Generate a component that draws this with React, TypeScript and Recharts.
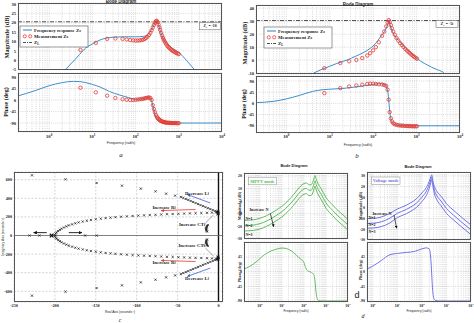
import React from "react";
import {
  ComposedChart,
  ScatterChart,
  Line,
  Scatter,
  XAxis,
  YAxis,
  CartesianGrid,
  ReferenceLine,
} from "recharts";

const SERIF = '"Liberation Serif", "Times New Roman", serif';
const SANS = '"Liberation Sans", Arial, sans-serif';
const BLUE = "#3d8ec9";
const RED = "#e5392e";
const GREEN = "#5cbc5c";
const VIOLET = "#7272e4";

// ---- panel a (Z_L = -10) ----
const aZL = 20.5;
const aFreq = [2.2, 3, 4, 5, 7, 10, 15, 20, 30, 50, 100, 150, 200, 250, 290, 310, 340, 380, 450, 550, 700, 1000, 1500, 2000, 2500];
const aMag = [-6, -2.5, 0.5, 3, 6.5, 8.7, 10.8, 11.7, 12.3, 12.5, 12.5, 12.7, 14.2, 17.5, 20.5, 21, 19, 15, 11, 8.5, 6.5, 4.2, 0, -3.3, -6];
const aPhFreq = [0.19, 0.3, 0.5, 1, 2, 3.6, 5, 10, 15, 25, 42, 70, 100, 140, 180, 206, 225, 245, 270, 293, 330, 400, 500, 10000];
const aPh = [16, 26, 38, 56, 68, 73, 72, 61, 51, 33, 20, 9, 3, 4, 9, 11, 6, -15, -45, -68, -82, -88, -90, -90];
const aMeasF = [5.3, 12, 22, 34, 50, 62, 75, 88, 100, 112, 125, 138, 150, 163, 176, 190, 205, 220, 235, 250, 265, 280, 295, 310, 325, 340, 355, 370, 390, 410, 430, 450, 470, 495, 520, 550, 580, 610, 650, 690, 730, 780, 830, 880, 940, 1000];
const aMeasMag = [5.5, 9.3, 11.4, 11.6, 11.4, 11.1, 10.8, 10.6, 10.5, 10.5, 10.6, 10.8, 11, 11.4, 11.9, 12.6, 13.5, 14.6, 16, 17.4, 18.8, 20, 20.8, 21, 20.3, 19, 17.6, 16.2, 14.6, 13.2, 12, 11, 10.1, 9.2, 8.4, 7.6, 7, 6.5, 5.9, 5.4, 5, 4.6, 4.2, 3.9, 3.6, 3.3];
const aMeasPh = [48, 30, 17, 8, 3, 1, 0, 0, 1, 2, 3, 4, 5, 6.5, 8, 9, 10, 8, 0, -20, -35, -48, -58, -65, -70, -74, -77, -79, -82, -84, -85, -86, -87, -88, -88.5, -89, -89, -89.5, -89.5, -90, -90, -90, -90, -90.5, -90.5, -90.5];

// ---- panel b ----
const bZL = 30.5;
const bFreq = [4.3, 6, 10, 15, 25, 40, 60, 85, 115, 145, 170, 195, 215, 229, 245, 270, 310, 360, 420, 550, 700, 1000, 1500, 2200, 3000, 3900, 4600];
const bMag = [-10, -7.8, -4.8, -2.5, 0, 3, 5.8, 8.9, 13, 17.6, 20.5, 24, 27.5, 31, 27.5, 23, 19, 16.2, 13.9, 9.5, 6.3, 1.3, -2.5, -5.5, -7.5, -9, -11];
const bPhFreq = [0.2, 0.5, 1, 2, 4, 7, 10, 20, 40, 70, 100, 150, 190, 210, 222, 232, 242, 255, 275, 320, 400, 600, 10000];
const bPh = [3, 8, 18, 32, 48, 55, 57, 60, 66, 72, 76, 79, 75, 60, 35, 0, -35, -62, -78, -86, -89, -90, -90];
const bMeasF = [7.5, 17.5, 28, 41, 56, 73, 85, 100, 115, 135, 160, 180, 200, 215, 228, 240, 255, 270, 290, 315, 345, 380, 420, 460, 500, 550, 600, 650, 700, 760, 820, 880, 950, 1020];
const bMeasMag = [-6.3, -2.3, -1, 0, 1.5, 3.5, 5.3, 7.5, 10, 13.7, 18.7, 22, 26, 29, 30.8, 29.5, 27, 24.5, 22, 19.5, 17, 15, 13, 11.5, 10, 8.5, 7.3, 6.2, 5.2, 4.2, 3.3, 2.5, 1.7, 1];
const bMeasPh = [41, 61, 68, 72, 75, 78, 79, 79, 78, 77, 76, 74, 70, 55, 15, -35, -60, -72, -80, -84, -86, -88, -89, -89.5, -90, -90.5, -91, -91, -91.5, -91.5, -92, -92, -92, -92];

// ---- panel c (pole map, upper half; lower half is the conjugate) ----
const cIsoRe = [-228, -187, -149, -118, -95, -77, -64, -53];
const cIsoIm = [647, 604, 565, 536, 504, 475, 450, 429];
const cAxisRe = [-231, -219, -163, -149];
const cDoubleRe = [-204];
const cRfRe = [-200, -199, -198, -196, -194, -192, -189, -186, -183, -179, -175, -171, -166, -161, -156, -150, -144, -138, -132, -126, -119, -112, -105, -98, -91, -84, -77, -70, -63, -56, -49, -42, -35, -28, -21, -14, -8, -3];
const cRfIm = [8, 22, 35, 48, 61, 73, 86, 98, 109, 120, 131, 141, 150, 159, 167, 174, 181, 187, 192, 197, 202, 206, 210, 214, 217, 220, 223, 226, 229, 231, 234, 236, 238, 240, 242, 244, 246, 248];
const cLfRe = [-46, -43, -40, -37, -34, -31, -28, -25, -22, -19, -16, -13, -10, -7, -4, -2];
const cLfIm = [415, 404, 393, 382, 371, 360, 349, 338, 327, 316, 305, 294, 284, 274, 264, 256];
const cCtRe = [-14, -14.5, -15, -15, -15, -14.5, -14, -13];
const cCtIm = [42, 52, 62, 72, 82, 92, 102, 112];
const cHubRe = [-1, 0, -1, 0, -1, 0, -1];
const cHubIm = [226, 232, 238, 243, 250, 256, 262];

// ---- panel d left (MPPT mode) ----
const dlFreq = [0.19, 0.5, 1, 1.5, 2, 3, 5, 10, 20, 33, 50, 70, 100, 130, 170, 210, 250, 290, 320, 360, 450, 600, 1000, 2000, 3200, 6000, 10000];
const dlN1 = [-15.2, -14.8, -13.5, -12.5, -11.5, -9.9, -7.5, -4, 0.8, 5, 9, 12, 14, 14.5, 13, 13, 15, 18.5, 20.5, 17.5, 13.5, 10, 3, -3, -6.7, -11, -14.5];
const dlN2 = [-19.4, -19, -17.8, -16.8, -15.8, -14.2, -11.8, -8.3, -3.5, 0.7, 4.7, 7.7, 9.7, 10.2, 8.7, 8.7, 10.7, 14.2, 16.2, 13.2, 9.2, 5.7, -1.3, -7.3, -11, -15.3, -18.8];
const dlN3 = [-23.6, -23.2, -22, -21, -20, -18.4, -16, -12.5, -7.7, -3.5, 0.5, 3.5, 5.5, 6, 4.5, 4.5, 6.5, 10, 12, 9, 5, 1.5, -5.5, -11.5, -15.2, -19.5, -23];
const dlPhFreq = [0.19, 0.5, 1, 1.4, 2, 2.9, 5, 10, 16, 23, 35, 47, 70, 100, 120, 150, 200, 250, 290, 320, 350, 390, 450, 600, 10000];
const dlPh = [8, 23, 40, 49, 56, 62, 68, 72.5, 71, 66, 58, 49, 39, 28, 12, 2, -1, -5, -12, -30, -60, -80, -88, -90, -90];

// ---- panel d right (Voltage mode) ----
const drFreq = [0.58, 1, 2.2, 5, 10, 23, 36, 60, 100, 150, 200, 230, 250, 280, 325, 420, 600, 1000, 2000, 4000, 10000];
const drN1 = [-10, -9.8, -8.5, -5, -1, 2.5, 5, 8.5, 14, 19, 25, 29, 31, 25, 20, 15, 11, 4, -2.5, -8.5, -16];
const drN2 = [-14.5, -14.3, -13, -9.5, -5, -1.5, 1, 4.5, 10, 15.5, 22, 26.5, 29, 23, 16.5, 11, 6.5, -0.5, -7, -13, -20.5];
const drN3 = [-19, -18.8, -17.5, -14, -9, -5.5, -3, 0.5, 6, 11.5, 18.5, 23.5, 26.5, 20, 13, 7, 2, -5, -11.5, -17.5, -25];
const drPhFreq = [0.58, 1, 2.2, 5, 10, 23, 50, 100, 150, 200, 220, 240, 260, 280, 300, 350, 500, 10000];
const drPh = [8, 17, 34, 52, 56, 59, 62, 70, 73, 70, 55, 20, -30, -65, -80, -88, -90, -90];

type Pt = { f: number; v: number };
const pts = (f: number[], v: number[]): Pt[] => f.map((x, i) => ({ f: x, v: v[i] }));
const cpts = (re: number[], im: number[]) => re.map((x, i) => ({ x, y: im[i] }));
const conj = (a: { x: number; y: number }[]) => a.map((p) => ({ x: p.x, y: -p.y }));

// decade + minor grid positions for a log axis
function logGrid(lo: number, hi: number) {
  const out: number[] = [];
  for (let e = -1; e <= 4; e++)
    for (let m = 1; m <= 9; m++) {
      const v = m * Math.pow(10, e);
      if (v >= lo * 0.999 && v <= hi * 1.001) out.push(v);
    }
  return out;
}

const DecTick = (props: any) => {
  const { x, y, payload, fs, gap } = props;
  const lg = Math.log10(payload.value);
  const e = Math.round(lg);
  if (Math.abs(lg - e) > 1e-6) return <g />;
  return (
    <text x={x} y={y + gap} textAnchor="middle" fontSize={fs} fontWeight={700} fontFamily={SERIF} fill="#222">
      10
      <tspan dy={-fs * 0.45} fontSize={fs * 0.7}>
        {e}
      </tspan>
    </text>
  );
};

const Ring = (p: any) => <circle cx={p.cx} cy={p.cy} r={1.7} fill="none" stroke={RED} strokeWidth={0.8} />;

type Series = { data: Pt[]; color: string };
type PanelProps = {
  x: number;
  y: number;
  w: number;
  h: number;
  xDomain: [number, number];
  yDomain: [number, number];
  yTicks: number[];
  lines: Series[];
  meas?: Pt[];
  refY?: number;
  gap?: number;
  fs: number;
  axisW: number;
};

const PAD = 4; // room round the plot so edge labels are not clipped

function LogPanel({ x, y, w, h, xDomain, yDomain, yTicks, lines, meas, refY, gap, fs, axisW }: PanelProps) {
  const xh = gap ? gap + fs : 0;
  const W = w + axisW + PAD;
  const H = h + xh + 2 * PAD;
  return (
    <div style={{ position: "absolute", left: x - axisW, top: y - PAD, width: W, height: H }}>
      <ComposedChart width={W} height={H} margin={{ top: PAD, right: PAD, bottom: PAD, left: 0 }}>
        <CartesianGrid stroke="#b4b4b4" strokeWidth={0.5} strokeDasharray="1 1.2" />
        <XAxis
          type="number"
          dataKey="f"
          scale="log"
          domain={xDomain}
          allowDataOverflow
          ticks={logGrid(xDomain[0], xDomain[1])}
          interval={0}
          hide={!gap}
          height={xh}
          axisLine={false}
          tickLine={false}
          tickSize={0}
          tickMargin={0}
          tick={<DecTick fs={fs} gap={gap} />}
        />
        <YAxis
          type="number"
          domain={yDomain}
          ticks={yTicks}
          interval={0}
          allowDataOverflow
          width={axisW}
          axisLine={false}
          tickLine={false}
          tickSize={0}
          tickMargin={2}
          tick={{ fontSize: fs, fill: "#222", fontWeight: 700, fontFamily: SERIF }}
        />
        {refY !== undefined && (
          <ReferenceLine y={refY} stroke="#222" strokeWidth={0.8} strokeDasharray="4 1.5 1 1.5" />
        )}
        {lines.map((s, i) => (
          <Line key={i} data={s.data} dataKey="v" type="monotone" stroke={s.color} strokeWidth={1} dot={false} isAnimationActive={false} />
        ))}
        {meas && <Scatter data={meas} dataKey="v" shape={Ring} isAnimationActive={false} />}
      </ComposedChart>
      <div
        style={{
          position: "absolute",
          left: axisW,
          top: PAD,
          width: w,
          height: h,
          border: "1px solid #555",
          boxSizing: "border-box",
          pointerEvents: "none",
        }}
      />
    </div>
  );
}

const Cross = (p: any) => {
  const s = 1.1;
  return (
    <path
      d={`M${p.cx - s},${p.cy - s}L${p.cx + s},${p.cy + s}M${p.cx - s},${p.cy + s}L${p.cx + s},${p.cy - s}`}
      stroke="#111"
      strokeWidth={0.7}
    />
  );
};
const BigCross = (p: any) => {
  const s = 1.8;
  return (
    <path
      d={`M${p.cx - s},${p.cy - s}L${p.cx + s},${p.cy + s}M${p.cx - s},${p.cy + s}L${p.cx + s},${p.cy - s}`}
      stroke="#111"
      strokeWidth={1.2}
    />
  );
};

const arrow = (color: string, marker: string, w = 0.8) => (p: any) =>
  <line x1={p.x1} y1={p.y1} x2={p.x2} y2={p.y2} stroke={color} strokeWidth={w} markerEnd={marker} />;

function PoleMap() {
  const axisW = 14;
  const w = 209;
  const h = 130;
  const upperPts = [...cpts(cRfRe, cRfIm), ...cpts(cLfRe, cLfIm), ...cpts(cCtRe, cCtIm), ...cpts(cHubRe, cHubIm)];
  const iso = cpts(cIsoRe, cIsoIm);
  const axisPts = cAxisRe.map((x) => ({ x, y: 0 }));
  const dbl = cDoubleRe.map((x) => ({ x, y: 0 }));
  const seg = (x1: number, y1: number, x2: number, y2: number) => [
    { x: x1, y: y1 },
    { x: x2, y: y2 },
  ];
  const W = w + axisW + PAD;
  const H = h + 9 + 2 * PAD;
  return (
    <div style={{ position: "absolute", left: 14 - axisW, top: 172 - PAD, width: W, height: H }}>
      <ScatterChart width={W} height={H} margin={{ top: PAD, right: PAD, bottom: PAD, left: 0 }}>
        <CartesianGrid stroke="#aaa" strokeWidth={0.5} strokeDasharray="2 1.5" />
        <XAxis
          type="number"
          dataKey="x"
          domain={[-250, 5.5]}
          ticks={[-250, -200, -150, -100, -50, 0]}
          interval={0}
          allowDataOverflow
          height={9}
          axisLine={false}
          tickLine={false}
          tickSize={0}
          tickMargin={2}
          tick={{ fontSize: 4.2, fill: "#222", fontWeight: 700, fontFamily: SERIF }}
        />
        <YAxis
          type="number"
          dataKey="y"
          domain={[-715, 683]}
          ticks={[-600, -400, -200, 0, 200, 400, 600]}
          interval={0}
          allowDataOverflow
          width={axisW}
          axisLine={false}
          tickLine={false}
          tickSize={0}
          tickMargin={2}
          tick={{ fontSize: 4.2, fill: "#222", fontWeight: 700, fontFamily: SERIF }}
        />
        <ReferenceLine x={0} stroke="#111" strokeWidth={1.4} />
        <ReferenceLine y={0} stroke="#666" strokeWidth={0.8} />
        <ReferenceLine segment={seg(-210, 31, -226, 31)} shape={arrow("#111", "url(#ahK)", 0.9)} />
        <ReferenceLine segment={seg(-183, 31, -167, 31)} shape={arrow("#111", "url(#ahK)", 0.9)} />
        <ReferenceLine segment={seg(-28, 280, -70, 268)} shape={arrow(RED, "url(#ahR)")} />
        <ReferenceLine segment={seg(-28, -280, -70, -268)} shape={arrow(RED, "url(#ahR)")} />
        <ReferenceLine segment={seg(-10, 350, -38, 440)} shape={arrow("#3b5fd6", "url(#ahB)")} />
        <ReferenceLine segment={seg(-10, -350, -38, -440)} shape={arrow("#3b5fd6", "url(#ahB)")} />
        <ReferenceLine segment={seg(-16, 135, -6, 222)} shape={arrow("#8a8a8a", "")} />
        <ReferenceLine segment={seg(-16, -135, -6, -222)} shape={arrow("#8a8a8a", "")} />
        <Scatter data={upperPts} shape={Cross} isAnimationActive={false} />
        <Scatter data={conj(upperPts)} shape={Cross} isAnimationActive={false} />
        <Scatter data={iso} shape={Cross} isAnimationActive={false} />
        <Scatter data={conj(iso)} shape={Cross} isAnimationActive={false} />
        <Scatter data={axisPts} shape={Cross} isAnimationActive={false} />
        <Scatter data={dbl} shape={BigCross} isAnimationActive={false} />
      </ScatterChart>
      <div
        style={{
          position: "absolute",
          left: axisW,
          top: PAD,
          width: w,
          height: h,
          border: "1px solid #555",
          boxSizing: "border-box",
          pointerEvents: "none",
        }}
      />
    </div>
  );
}

const T = ({ x, y, s, children, w = 700, f = SERIF, a = "middle", c = "#222", it = false, rot = 0 }: any) => (
  <text
    x={x}
    y={y}
    fontSize={s}
    fontWeight={w}
    fontFamily={f}
    textAnchor={a}
    fill={c}
    fontStyle={it ? "italic" : "normal"}
    dominantBaseline="central"
    transform={rot ? `rotate(${rot} ${x} ${y})` : undefined}
  >
    {children}
  </text>
);

const Sub = ({ children, s }: any) => (
  <tspan fontSize={s} dy={1}>
    {children}
  </tspan>
);

function BodeLegend({ x, y }: { x: number; y: number }) {
  return (
    <g>
      <rect x={x} y={y} width={68} height={21} fill="#fff" stroke="#555" strokeWidth={0.6} />
      <line x1={x + 3} x2={x + 12} y1={y + 4} y2={y + 4} stroke={BLUE} strokeWidth={1.1} />
      <T x={x + 14} y={y + 4} s={4.8} a="start">
        Frequency response Z<Sub s={3.2}>o</Sub>
      </T>
      <circle cx={x + 4.8} cy={y + 10.3} r={1.6} fill="none" stroke={RED} strokeWidth={0.75} />
      <circle cx={x + 10.2} cy={y + 10.3} r={1.6} fill="none" stroke={RED} strokeWidth={0.75} />
      <T x={x + 14} y={y + 10.3} s={4.8} a="start">
        Measurement Z<Sub s={3.2}>o</Sub>
      </T>
      <line x1={x + 3} x2={x + 12} y1={y + 16.5} y2={y + 16.5} stroke="#222" strokeWidth={0.8} strokeDasharray="3 1 1 1" />
      <T x={x + 14} y={y + 16.5} s={4.8} a="start">
        Z<Sub s={3.2}>L</Sub>
      </T>
    </g>
  );
}

function Overlay() {
  return (
    <svg width={474} height={323} style={{ position: "absolute", left: 0, top: 0, pointerEvents: "none" }}>
      <defs>
        <marker id="ahK" viewBox="0 0 10 10" refX="9" refY="5" markerWidth="4" markerHeight="4" orient="auto">
          <path d="M0,0L10,5L0,10z" fill="#111" />
        </marker>
        <marker id="ahR" viewBox="0 0 10 10" refX="9" refY="5" markerWidth="4" markerHeight="4" orient="auto">
          <path d="M0,0L10,5L0,10z" fill={RED} />
        </marker>
        <marker id="ahB" viewBox="0 0 10 10" refX="9" refY="5" markerWidth="4" markerHeight="4" orient="auto">
          <path d="M0,0L10,5L0,10z" fill="#3b5fd6" />
        </marker>
      </defs>

      {/* panel a */}
      <T x={121} y={1} s={4.5} f={SANS}>Bode Diagram</T>
      <T x={6} y={37} s={6.3} rot={-90}>Magnitude (dB)</T>
      <T x={6} y={102} s={6} rot={-90}>Phase (deg)</T>
      <T x={121} y={142.5} s={3.6} w={400} f={SANS}>Frequency (rad/s)</T>
      <T x={121} y={155} s={7} w={400} it>a</T>
      <BodeLegend x={20} y={26} />
      <rect x={199.5} y={22.8} width={21} height={7} fill="#fff" stroke="#555" strokeWidth={0.5} />
      <T x={210} y={26.3} s={3.8}>
        <tspan fontStyle="italic">Z</tspan>
        <Sub s={2.6}>L</Sub>
        <tspan dy={-1}> = -10</tspan>
      </T>

      {/* panel b */}
      <T x={358} y={4} s={4.5} f={SANS}>Bode Diagram</T>
      <T x={244} y={43} s={6.3} rot={-90}>Magnitude (dB)</T>
      <T x={244} y={104} s={6} rot={-90}>Phase (deg)</T>
      <T x={358} y={145} s={3.6} w={400} f={SANS}>Frequency (rad/s)</T>
      <T x={357} y={156} s={7} w={400} it>b</T>
      <BodeLegend x={264} y={27} />
      <rect x={436} y={20.5} width={22} height={7} fill="#fff" stroke="#555" strokeWidth={0.5} />
      <T x={447} y={24} s={3.8}>
        <tspan fontStyle="italic">Z</tspan>
        <Sub s={2.6}>L</Sub>
        <tspan dy={-1}> = -5i</tspan>
      </T>

      {/* panel c */}
      <T x={3} y={237} s={3.2} w={400} f={SANS} rot={-90}>Imaginary Axis (seconds⁻¹)</T>
      <T x={120} y={311.5} s={3.2} w={400} f={SANS}>Real Axis (seconds⁻¹)</T>
      <T x={120} y={320} s={6} w={400} it>c</T>
      <T x={197} y={193} s={4.8}>
        Decrease L<Sub s={3.4}>f</Sub>
      </T>
      <T x={164} y={207} s={4.8}>
        Increase R<Sub s={3.4}>f</Sub>
      </T>
      <T x={192} y={224} s={4.8}>
        Increase CT<Sub s={3.4}>f</Sub>
      </T>
      <T x={192} y={245} s={4.8}>
        Increase CT<Sub s={3.4}>b</Sub>
      </T>
      <T x={164} y={262} s={4.8}>
        Increase R<Sub s={3.4}>f</Sub>
      </T>
      <T x={197} y={278} s={4.8}>
        Decrease L<Sub s={3.4}>f</Sub>
      </T>

      {/* panel d left */}
      <T x={294} y={165} s={4} f={SANS}>Bode Diagram</T>
      <T x={239} y={206} s={4.2} rot={-90}>Magnitude (dB)</T>
      <T x={239} y={272} s={4.2} rot={-90}>Phase (deg)</T>
      <T x={296} y={311} s={3.2} w={400} f={SANS}>Frequency (rad/s)</T>
      <rect x={248.5} y={177.2} width={28} height={7.6} fill="#fff" stroke="#888" strokeWidth={0.5} />
      <T x={262.5} y={181} s={4.5} c={GREEN}>MPPT mode</T>
      <T x={259} y={209} s={4.2}>Increase N</T>
      <line x1={270.3} y1={213.3} x2={273.7} y2={226.7} stroke="#111" strokeWidth={0.7} markerEnd="url(#ahK)" />
      <T x={245.5} y={219} s={3.9} a="start">N=1</T>
      <T x={245.5} y={226} s={3.9} a="start">N=2</T>
      <T x={245.5} y={235} s={3.9} a="start">N=3</T>

      {/* panel d right */}
      <T x={418} y={166} s={4} f={SANS}>Bode Diagram</T>
      <T x={360} y={206} s={4.2} rot={-90}>Magnitude (dB)</T>
      <T x={360} y={270} s={4.2} rot={-90}>Phase (deg)</T>
      <T x={419} y={311} s={3.2} w={400} f={SANS}>Frequency (rad/s)</T>
      <rect x={371.5} y={177} width={28.5} height={7.6} fill="#fff" stroke="#888" strokeWidth={0.5} />
      <T x={385.7} y={180.8} s={4.5} c={VIOLET}>Voltage mode</T>
      <T x={382} y={213} s={4.2}>Increase N</T>
      <line x1={394} y1={215} x2={396.7} y2={228.3} stroke="#111" strokeWidth={0.7} markerEnd="url(#ahK)" />
      <T x={368.5} y={217.5} s={3.9} a="start">N=1</T>
      <T x={368.5} y={224.5} s={3.9} a="start">N=2</T>
      <T x={368.5} y={231.5} s={3.9} a="start">N=3</T>

      <T x={357} y={295} s={9} w={400} f={SANS}>d</T>
      <T x={363} y={316} s={6} w={400} it>d</T>
    </svg>
  );
}

export default function App() {
  const phTicks = [-90, -45, 0, 45, 90];
  const dPhTicks = [-90, -45, 0, 45];
  return (
    <div style={{ position: "relative", width: 474, height: 323, background: "#fff", overflow: "hidden" }}>
      <style>{"body{margin:0}"}</style>

      <LogPanel x={18} y={3.3} w={204} h={66.7} xDomain={[0.19, 10000]} yDomain={[-5, 30.5]} yTicks={[-5, 0, 5, 10, 15, 20, 25, 30]}
        lines={[{ data: pts(aFreq, aMag), color: BLUE }]} meas={pts(aMeasF, aMeasMag)} refY={aZL} fs={4.6} axisW={16} />
      <LogPanel x={18} y={73} w={204} h={59} xDomain={[0.19, 10000]} yDomain={[-125, 105.6]} yTicks={phTicks}
        lines={[{ data: pts(aPhFreq, aPh), color: BLUE }]} meas={pts(aMeasF, aMeasPh)} gap={6.5} fs={4.6} axisW={16} />

      <LogPanel x={256} y={5} w={204} h={69} xDomain={[0.2, 10000]} yDomain={[-10.8, 42.5]} yTicks={[-10, 0, 10, 20, 30, 40]}
        lines={[{ data: pts(bFreq, bMag), color: BLUE }]} meas={pts(bMeasF, bMeasMag)} refY={bZL} fs={4.6} axisW={16} />
      <LogPanel x={256} y={76} w={204} h={57} xDomain={[0.2, 10000]} yDomain={[-119, 110]} yTicks={phTicks}
        lines={[{ data: pts(bPhFreq, bPh), color: BLUE }]} meas={pts(bMeasF, bMeasPh)} gap={5.5} fs={4.6} axisW={16} />

      <PoleMap />

      <LogPanel x={244} y={173} w={104} h={66} xDomain={[0.19, 10000]} yDomain={[-30, 22.4]} yTicks={[-30, -20, -10, 0, 10, 20]}
        lines={[
          { data: pts(dlFreq, dlN1), color: GREEN },
          { data: pts(dlFreq, dlN2), color: GREEN },
          { data: pts(dlFreq, dlN3), color: GREEN },
        ]} fs={3.9} axisW={9} />
      <LogPanel x={244} y={242} w={104} h={60} xDomain={[0.19, 10000]} yDomain={[-93, 91]} yTicks={dPhTicks}
        lines={[{ data: pts(dlPhFreq, dlPh), color: GREEN }]} gap={5} fs={3.9} axisW={9} />

      <LogPanel x={367} y={172} w={104} h={68} xDomain={[0.58, 10000]} yDomain={[-30, 33.6]} yTicks={[-30, -20, -10, 0, 10, 20, 30]}
        lines={[
          { data: pts(drFreq, drN1), color: VIOLET },
          { data: pts(drFreq, drN2), color: VIOLET },
          { data: pts(drFreq, drN3), color: VIOLET },
        ]} fs={3.9} axisW={10} />
      <LogPanel x={367} y={242} w={104} h={60} xDomain={[0.58, 10000]} yDomain={[-93, 91]} yTicks={dPhTicks}
        lines={[{ data: pts(drPhFreq, drPh), color: VIOLET }]} gap={5} fs={3.9} axisW={10} />

      <Overlay />
    </div>
  );
}
